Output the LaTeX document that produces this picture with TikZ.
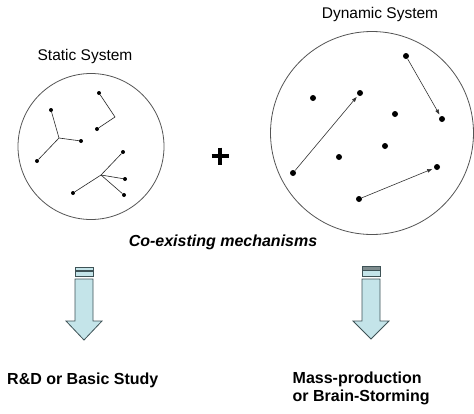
\documentclass[tikz,border=0pt]{standalone}
\usepackage{fontspec}
\setmainfont{Liberation Sans}
\usetikzlibrary{arrows.meta}
\definecolor{arrfill}{HTML}{C4E4E9}
\definecolor{arrline}{HTML}{3E5256}
\definecolor{bandgrey}{HTML}{7E8C8E}
\definecolor{circ}{HTML}{555555}
\tikzset{
  sys/.style={draw=circ, line width=0.8pt},
  sdot/.style={circle, fill=black, inner sep=0pt, minimum size=4pt},
  ddot/.style={circle, fill=black, inner sep=0pt, minimum size=6pt},
  junc/.style={coordinate},
  twig/.style={draw=black!85, line width=0.6pt},
  move/.style={draw=black!80, line width=0.6pt, -{Triangle[length=5pt,width=3.5pt]}, shorten >=2pt},
  bigarrow/.style={draw=arrline, fill=arrfill, line width=0.8pt, line join=miter},
  title/.style={font=\fontsize{15.5}{18}\selectfont, inner sep=0pt},
  label/.style={font=\fontsize{16}{18}\selectfont\bfseries, inner sep=0pt, anchor=west, align=left},
}
\begin{document}
\begin{tikzpicture}[x=1pt,y=-1pt]
\useasboundingbox[fill=white] (0,0) rectangle (474,413);

% titles
\node[title] (tstat) at (85,56) {Static System};
\node[title] (tdyn) at (380,14) {Dynamic System};

% circles
\node[sys, circle, minimum size=146pt, inner sep=0pt] (cstat) at (91,146.5) {};
\node[sys, circle, minimum size=203pt, inner sep=0pt] (cdyn) at (372,133) {};

% static system trees
\node[sdot] (s1) at (51,110) {};
\node[sdot] (s2) at (37,161) {};
\node[sdot] (s3) at (81,141) {};
\coordinate (j1) at (59,138);
\draw[twig] (s1) -- (j1) -- (s3);
\draw[twig] (j1) -- (s2);

\node[sdot] (s4) at (99,93) {};
\coordinate (j2) at (115,117);
\node[sdot] (s5) at (97,129) {};
\draw[twig] (s4) -- (j2) -- (s5);

\node[sdot] (s6) at (123,152) {};
\node[sdot] (s7) at (125,179) {};
\node[sdot] (s8) at (124,195) {};
\node[sdot] (s9) at (73,193) {};
\coordinate (j3) at (101,175);
\draw[twig] (s9) -- (j3) -- (s6);
\draw[twig] (j3) -- (s7);
\draw[twig] (j3) -- (s8);

% dynamic system particles
\node[ddot] (d1) at (406,56) {};
\node[ddot] (d2) at (313,98) {};
\node[ddot] (d3) at (360,93) {};
\node[ddot] (d4) at (395,114) {};
\node[ddot] (d5) at (442,119) {};
\node[ddot] (d6) at (385,146) {};
\node[ddot] (d7) at (339,157) {};
\node[ddot] (d8) at (293,173) {};
\node[ddot] (d9) at (437,167) {};
\node[ddot] (d10) at (359,199) {};
\draw[move] (d8) -- (d3);
\draw[move] (d1) -- (d5);
\draw[move] (d10) -- (d9);

% plus sign
\node[inner sep=0pt] (plus) at (220,156) {};
\draw[line width=3.2pt] (211.5,156) -- (228.5,156);
\draw[line width=3.2pt] (220,147.5) -- (220,164.5);

% caption
\node[font=\fontsize{16}{18}\selectfont\bfseries\itshape, inner sep=0pt] (mech) at (223,242) {Co-existing mechanisms};

% left big arrow
\draw[bigarrow] (75,267) rectangle (93,270);
\draw[bigarrow] (75,271.5) rectangle (93,276.5);
\draw[bigarrow] (75,279) -- (75,321) -- (66,321) -- (84,340) -- (102,321) -- (93,321) -- (93,279) -- cycle;
% right big arrow
\draw[bigarrow, fill=bandgrey] (362,266.5) rectangle (380,270.5);
\draw[bigarrow] (362,270.5) rectangle (380,276.5);
\draw[bigarrow] (362,279) -- (362,321) -- (353,321) -- (371,339) -- (389,321) -- (380,321) -- (380,279) -- cycle;

% labels
\node[label] (lrd) at (7,380.5) {R\&D or Basic Study};
\node[label, anchor=north west] (lmp) at (292.5,372) {Mass-production\\or Brain-Storming};
\end{tikzpicture}
\end{document}
